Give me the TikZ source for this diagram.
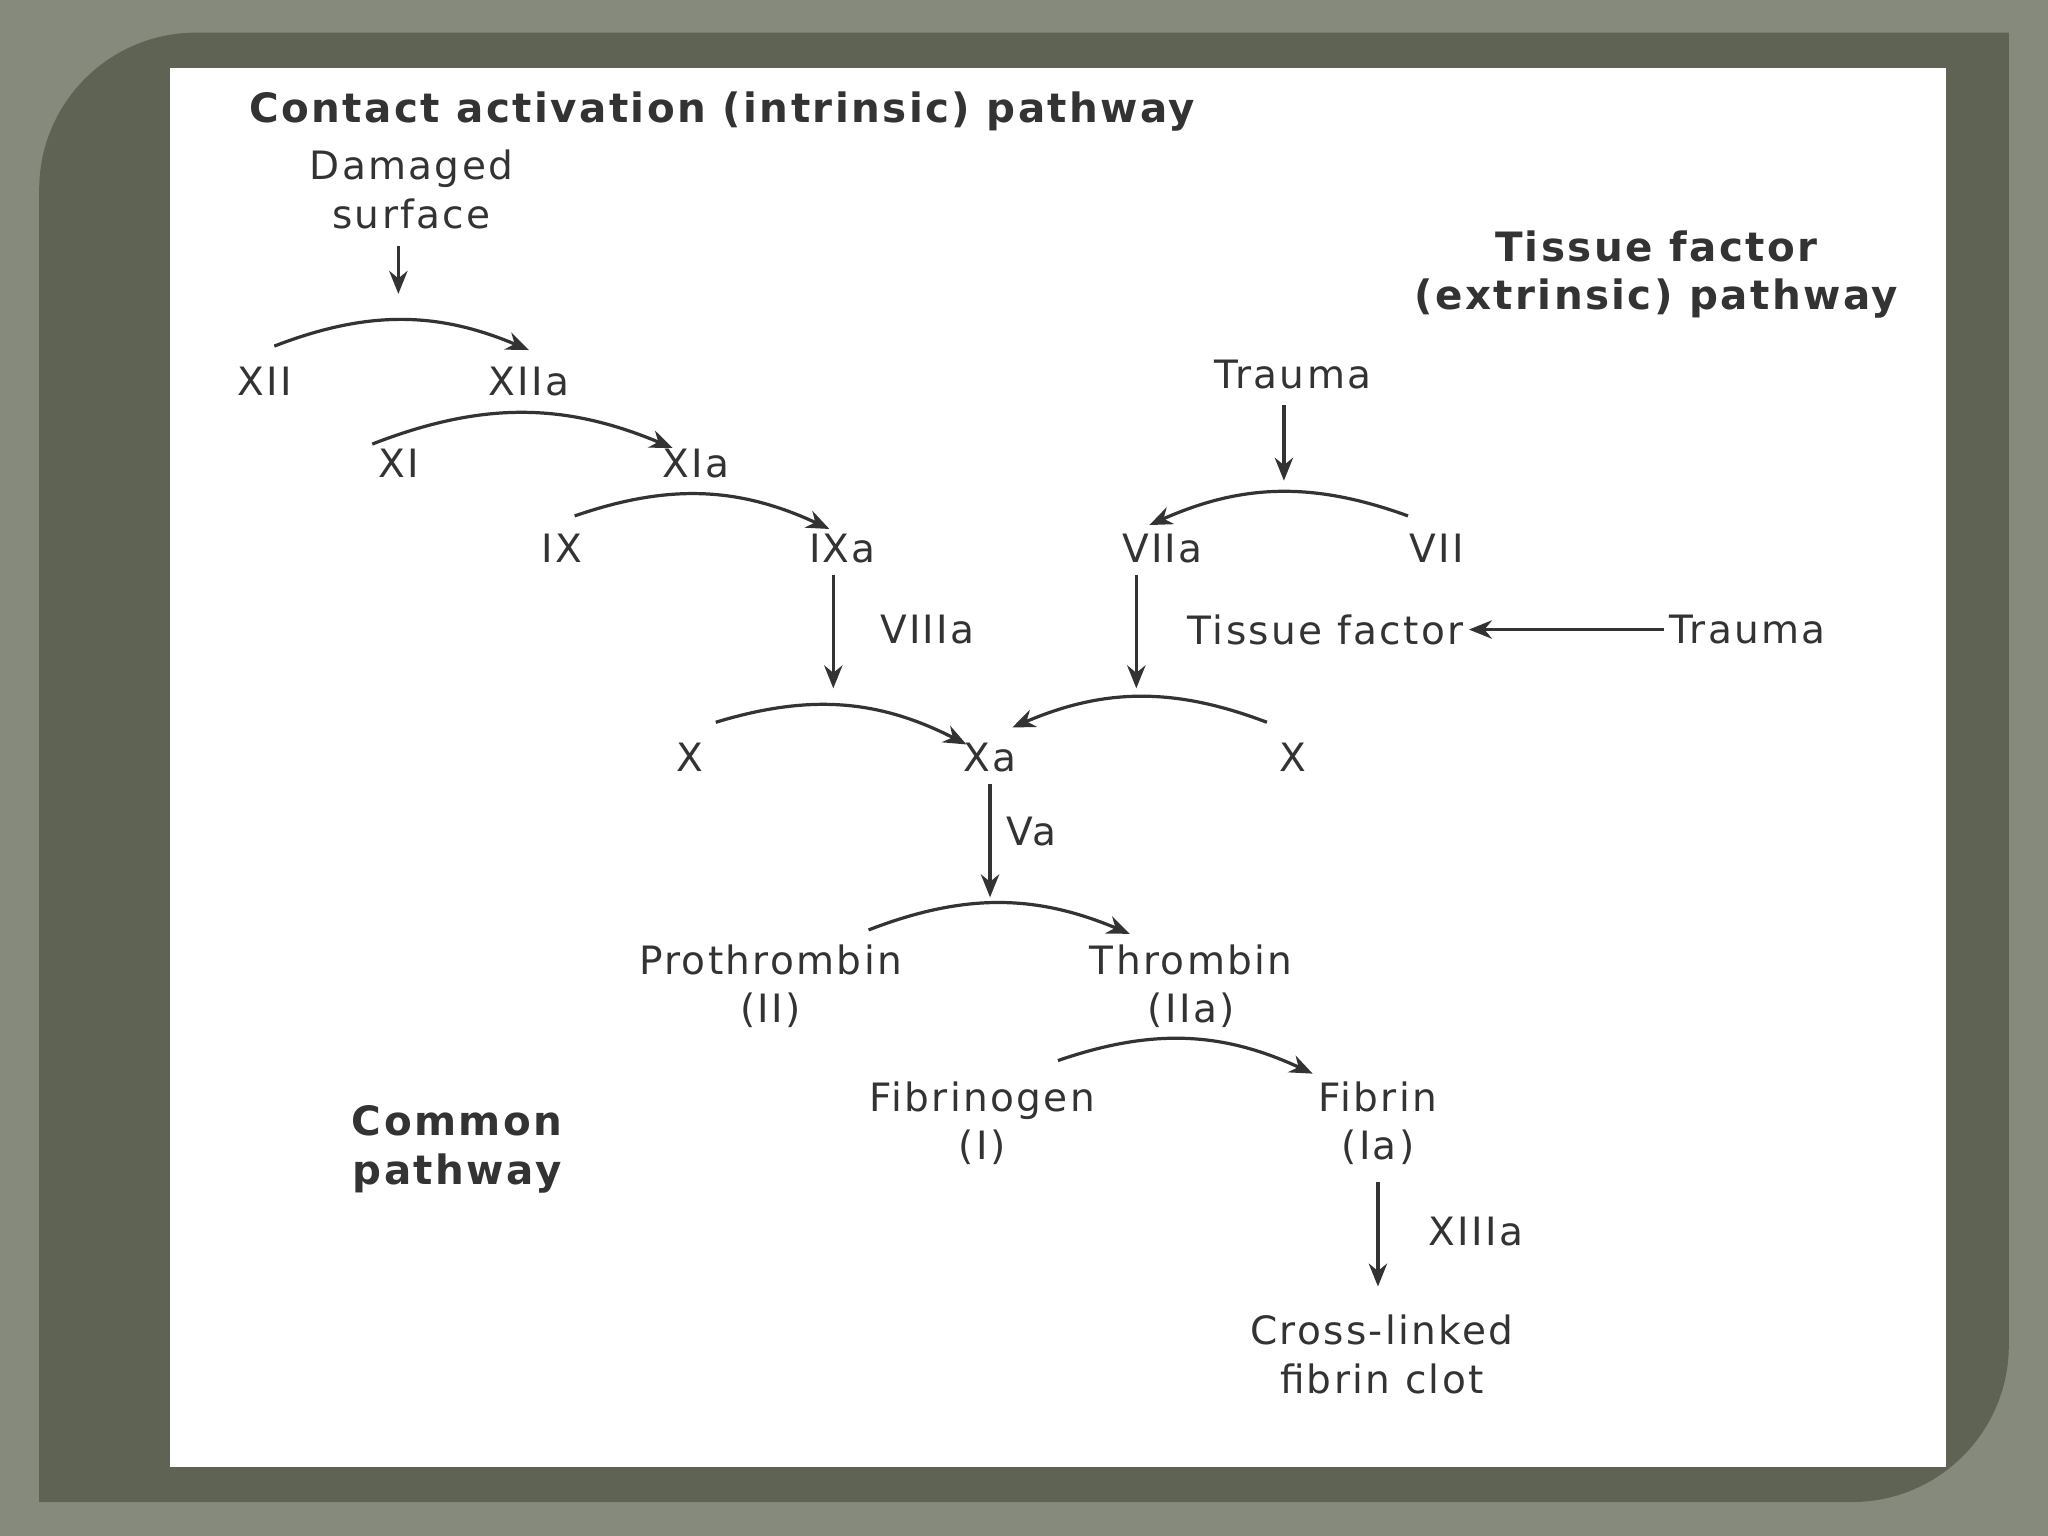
\documentclass[tikz,border=0pt]{standalone}
\usepackage{fontspec}
\setmainfont{DejaVu Sans}[LetterSpace=6]
\usetikzlibrary{arrows.meta}
\definecolor{bgc}{HTML}{868A7C}
\definecolor{frm}{HTML}{5E6354}
\begin{document}
\begin{tikzpicture}[x=0.01cm,y=-0.01cm,
  lbl/.style={font=\fontsize{8.5}{10.5}\selectfont,align=center,inner sep=1pt,text=black!80},
  hdr/.style={lbl,font=\fontsize{8.8}{10.5}\selectfont\bfseries},
  arr/.style={-{Stealth[length=5pt,width=4pt]},line width=0.7pt,black!80}]
\fill[bgc] (0,0) rectangle (1568,1176);
\fill[frm] (30,1150) [rounded corners=1.2cm] -- (30,25) [sharp corners] -- (1538,25) [rounded corners=1.2cm] -- (1538,1150) [sharp corners] -- cycle;
\fill[white] (130,52) rectangle (1490,1123);
\draw[frm,line width=1pt] (100,245) -- (130,245);
\node[hdr] (title) at (553,85) {Contact activation (intrinsic) pathway};
\node[lbl] (dam) at (315,145) {Damaged\\surface};
\node[hdr] (tf) at (1268,210) {Tissue factor\\(extrinsic) pathway};
\node[lbl] (xii) at (203,292) {XII};
\node[lbl] (xiia) at (405,292) {XIIa};
\node[lbl] (xi) at (305,355) {XI};
\node[lbl] (xia) at (533,355) {XIa};
\node[lbl] (ix) at (430,420) {IX};
\node[lbl] (ixa) at (645,420) {IXa};
\node[lbl] (tr1) at (990,287) {Trauma};
\node[lbl] (viia) at (890,420) {VIIa};
\node[lbl] (vii) at (1100,420) {VII};
\node[lbl] (viiia) at (710,482) {VIIIa};
\node[lbl] (tfac) at (1015,482) {Tissue factor};
\node[lbl] (tr2) at (1338,482) {Trauma};
\node[lbl] (x1) at (528,580) {X};
\node[lbl] (xa) at (758,580) {Xa};
\node[lbl] (x2) at (990,580) {X};
\node[lbl] (va) at (790,637) {Va};
\node[lbl] (pro) at (590,755) {Prothrombin\\(II)};
\node[lbl] (thr) at (912,755) {Thrombin\\(IIa)};
\node[lbl] (fgn) at (752,860) {Fibrinogen\\(I)};
\node[lbl] (fib) at (1055,860) {Fibrin\\(Ia)};
\node[hdr] (com) at (350,880) {Common\\pathway};
\node[lbl] (xiiia) at (1130,943) {XIIIa};
\node[lbl] (clot) at (1058,1037) {Cross-linked\\fibrin clot};
% vertical arrows
\draw[arr] (305,188) -- (305,225);
\draw[arr] (983,310) -- (983,368);
\draw[arr] (638,440) -- (638,527);
\draw[arr] (870,440) -- (870,527);
\draw[arr] (tr2.west) -- (tfac.east);
\draw[arr] (758,600) -- (758,687);
\draw[arr] (1055,905) -- (1055,985);
% arcs
\draw[arr] (210,265) to[bend left=22] (405,268);
\draw[arr] (285,340) to[bend left=22] (515,343);
\draw[arr] (440,395) to[bend left=22] (635,405);
\draw[arr] (1078,395) to[bend right=22] (880,402);
\draw[arr] (548,553) to[bend left=22] (740,570);
\draw[arr] (970,553) to[bend right=22] (775,557);
\draw[arr] (665,712) to[bend left=22] (865,715);
\draw[arr] (810,812) to[bend left=22] (1005,822);
\end{tikzpicture}
\end{document}
